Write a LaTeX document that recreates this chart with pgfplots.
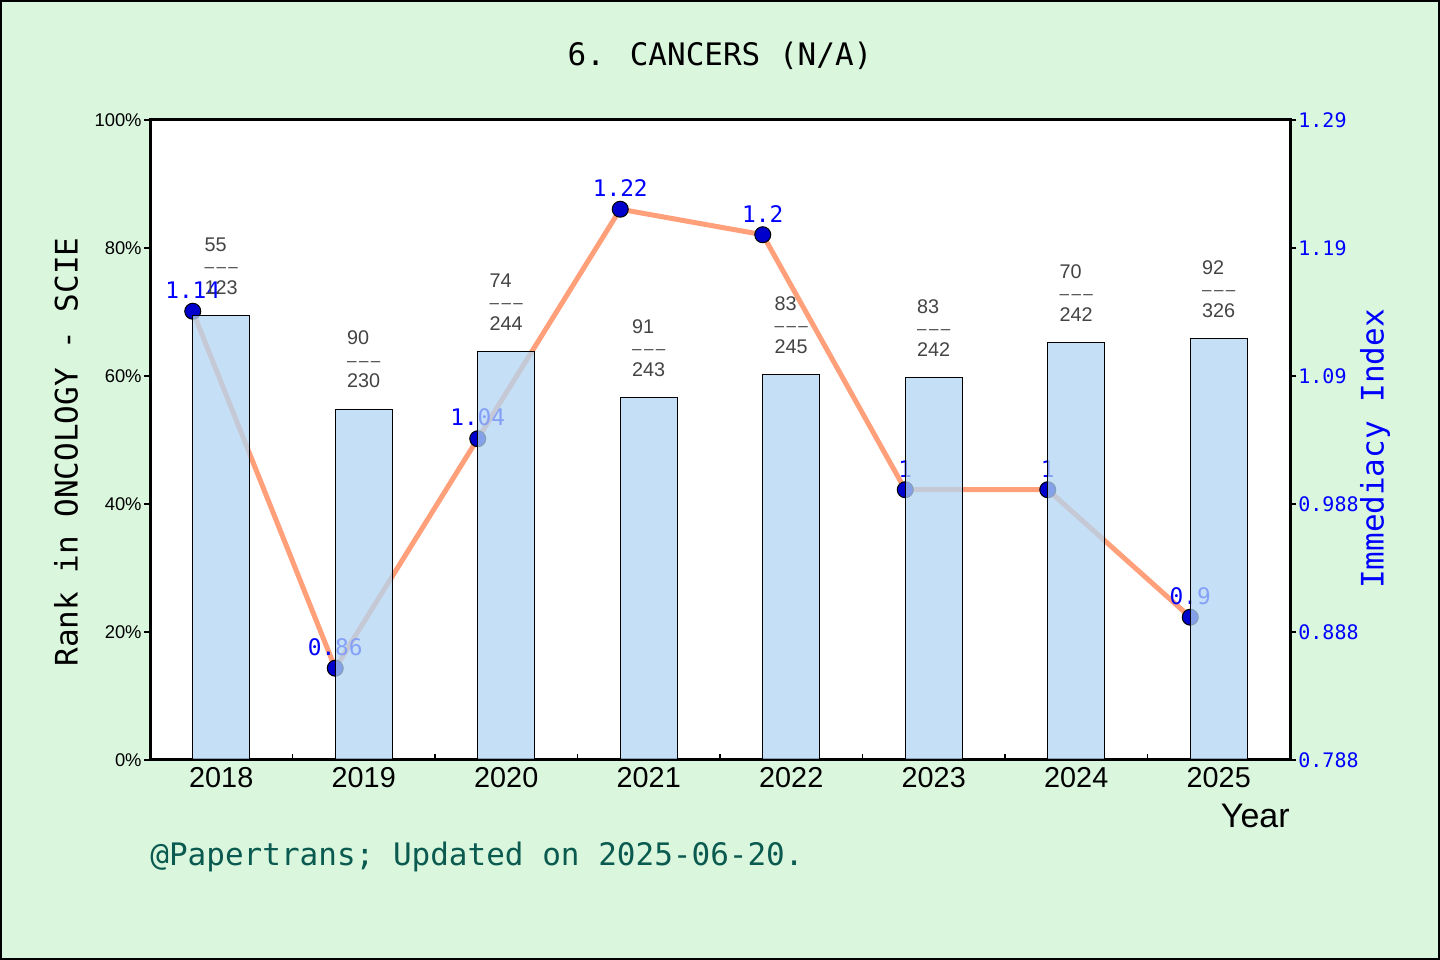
\documentclass[border=0pt]{standalone}
\usepackage{fontspec}
\setmainfont{Liberation Sans}
\newfontfamily\mono{DejaVu Sans Mono}
\usepackage{pgfplots}
\pgfplotsset{compat=1.18}
\definecolor{bgc}{RGB}{218,247,222}
\definecolor{barc}{RGB}{178,214,244}
\definecolor{salmon}{RGB}{255,160,122}
\definecolor{mblue}{RGB}{0,0,205}
\definecolor{tealc}{RGB}{10,90,80}
\definecolor{fracgray}{RGB}{68,68,68}
\newcommand{\dd}{{\fontsize{8.5bp}{10.75bp}\selectfont\textendash\kern1.2bp\textendash\kern1.2bp\textendash}}
\begin{document}
\begin{tikzpicture}
\useasboundingbox (0,0) rectangle (720bp,480bp);
\fill[bgc] (0,0) rectangle (720bp,480bp);
\draw[black,line width=1bp] (0.5bp,0.5bp) rectangle (719.5bp,479.5bp);
% line axis (right)
\begin{axis}[at={(75bp,100bp)}, anchor=south west, scale only axis,
  width=570bp, height=320bp,
  xmin=-0.5, xmax=7.5, ymin=0.788, ymax=1.29,
  axis background/.style={fill=white},
  hide x axis, axis y line*=right,
  axis line style={line width=1.5bp},
  ytick={0.788,0.8884,0.9888,1.0892,1.1896,1.29},
  yticklabels={0.788,0.888,0.988,1.09,1.19,1.29},
  yticklabel style={font=\mono\fontsize{10bp}{12bp}\selectfont, text=blue, inner sep=1bp},
  tick align=outside, major tick length=3bp, tick style={black, line width=0.8bp},
  clip=false]
\addplot[color=salmon, line width=2.5bp, mark=*, mark size=4bp,
  mark options={fill=mblue, draw=black, line width=0.5bp},
  nodes near coords, point meta=explicit symbolic,
  nodes near coords style={font=\mono\fontsize{11.4bp}{13bp}\selectfont, text=blue, anchor=south, inner sep=0pt, yshift=6bp}]
  coordinates {(-0.2,1.14) [1.14] (0.8,0.86) [0.86] (1.8,1.04) [1.04] (2.8,1.22) [1.22]
               (3.8,1.2) [1.2] (4.8,1.0) [1] (5.8,1.0) [1] (6.8,0.9) [0.9]};
\end{axis}
% bar axis (left)
\begin{axis}[at={(75bp,100bp)}, anchor=south west, scale only axis,
  width=570bp, height=320bp,
  xmin=-0.5, xmax=7.5, ymin=0, ymax=100,
  axis line style={line width=1.5bp},
  xtick={0,1,2,3,4,5,6,7},
  xticklabels={2018,2019,2020,2021,2022,2023,2024,2025},
  xtick style={draw=none},
  xtick pos=left, ytick pos=left,
  xticklabel style={font=\fontsize{14.4bp}{16bp}\selectfont, inner sep=0.6bp},
  extra x ticks={0.5,1.5,2.5,3.5,4.5,5.5,6.5},
  extra x tick labels={},
  extra x tick style={xtick style={draw=black, line width=0.6bp}, tick align=inside, major tick length=3bp},
  ytick={0,20,40,60,80,100},
  yticklabels={0\%,20\%,40\%,60\%,80\%,100\%},
  yticklabel style={font=\fontsize{9.2bp}{11bp}\selectfont, inner sep=1bp},
  tick align=outside, major tick length=3bp, ytick style={black, line width=0.8bp},
  clip=false]
\addplot[ybar, bar width=0.4, fill=barc, fill opacity=0.75, draw=black, line width=0.5bp,
  nodes near coords, point meta=explicit symbolic,
  nodes near coords style={font=\fontsize{9.9bp}{10.75bp}\selectfont, text=fracgray, align=left,
    anchor=south, inner sep=0pt, yshift=10.5bp, fill opacity=1, text opacity=1}]
  coordinates {(0,69.4) [{55\\\dd\\123}] (1,54.8) [{90\\\dd\\230}] (2,63.75) [{74\\\dd\\244}]
               (3,56.6) [{91\\\dd\\243}] (4,60.2) [{83\\\dd\\245}] (5,59.7) [{83\\\dd\\242}]
               (6,65.2) [{70\\\dd\\242}] (7,65.8) [{92\\\dd\\326}]};
\end{axis}
\node[font=\mono\fontsize{15.5bp}{18bp}\selectfont] at (360bp,452bp) {6. CANCERS (N/A)};
\node[font=\mono\fontsize{15.5bp}{18bp}\selectfont, rotate=90] at (33bp,254bp) {Rank in ONCOLOGY - SCIE};
\node[font=\mono\fontsize{15.5bp}{18bp}\selectfont, rotate=90, text=blue] at (687.5bp,255.5bp) {Immediacy Index};
\node[font=\fontsize{17bp}{20bp}\selectfont, anchor=base east, inner sep=0pt] at (645bp,66bp) {Year};
\node[font=\mono\fontsize{15.5bp}{18bp}\selectfont, anchor=base west, inner sep=0pt, text=tealc] at (75bp,47bp) {@Papertrans; Updated on 2025-06-20.};
\end{tikzpicture}
\end{document}
